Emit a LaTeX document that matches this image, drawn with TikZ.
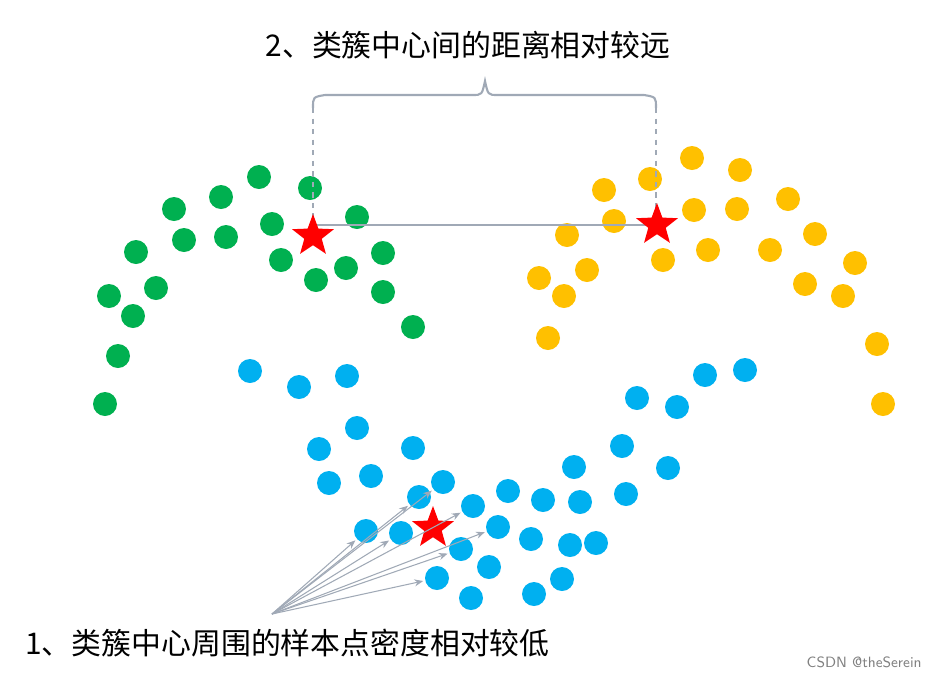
\documentclass[tikz,border=0pt]{standalone}
\usepackage{fontspec}
\newfontfamily\cjk{Noto Sans CJK SC}
\usetikzlibrary{arrows.meta,shapes.geometric}
\definecolor{gdot}{HTML}{00B050}
\definecolor{ydot}{HTML}{FFC000}
\definecolor{bdot}{HTML}{00B0F0}
\definecolor{lin}{HTML}{A0A9B6}
\tikzset{
 dot/.style={circle,fill=#1,inner sep=0pt,minimum size=24*0.02cm},
 starn/.style={star,star points=5,star point ratio=2.4,fill=red,inner sep=0pt,minimum size=44*0.02cm},
 ln/.style={draw=lin,line width=0.9pt},
 arr/.style={ln,line width=0.6pt,-{Stealth[length=5pt,width=4pt]},shorten >=1pt},
 lbl/.style={font=\cjk\fontsize{17}{19}\selectfont,inner sep=0pt}
}
\begin{document}
\begin{tikzpicture}[x=0.02cm,y=-0.02cm]
\useasboundingbox (0,0) rectangle (938,677);
\foreach \p [count=\i] in {(259,177),(310,188),(174,209),(221,197),(272,224),(357,217),(184,240),(226,237),(136,252),(281,260),(316,280),(346,268),(383,253),(156,288),(109,296),(133,316),(383,292),(413,327),(118,356),(105,404)}
  \node[dot=gdot] (g\i) at \p {};
\foreach \p [count=\i] in {(692,158),(740,170),(604,190),(650,179),(788,199),(614,221),(694,210),(737,209),(567,235),(815,234),(708,250),(770,250),(663,260),(587,270),(855,263),(539,278),(805,284),(564,296),(843,296),(548,338),(877,344),(883,404)}
  \node[dot=ydot] (y\i) at \p {};
\foreach \p [count=\i] in {(250,371),(299,387),(347,376),(705,375),(745,370),(637,398),(677,407),(357,428),(319,449),(413,448),(622,446),(371,476),(329,483),(574,467),(668,468),(443,482),(508,491),(473,506),(543,500),(580,502),(626,494),(419,497),(366,531),(401,533),(498,527),(531,539),(570,545),(596,543),(461,549),(489,567),(437,578),(562,579),(534,594),(471,598)}
  \node[dot=bdot] (b\i) at \p {};
% bracket
\coordinate (d1) at (313,108);
\coordinate (d2) at (656,108);
\draw[ln,dashed] (d1) -- (313,225);
\draw[ln,dashed] (d2) -- (656,225);
\draw[ln] (313,225) -- (656,225);
\draw[ln,line width=1.2pt] (d1) .. controls (313,97) .. (325,95) -- (472,95) .. controls (482,95) .. (485,81) .. controls (488,95) .. (498,95) -- (644,95) .. controls (656,97) .. (d2);
\node[starn] (s1) at (313,236) {};
\node[starn] (s2) at (657,225) {};
\node[starn] (s3) at (433,528) {};
\coordinate (o) at (272,614);
\foreach \t in {b16,b22,b18,b23,b24,b25,b29,b31}
  \draw[arr] (o) -- (\t);
\node[lbl] (t1) at (468,45) {2、类簇中心间的距离相对较远};
\node[lbl,anchor=west] (t2) at (25,643) {1、类簇中心周围的样本点密度相对较低};
\node[font=\sffamily\fontsize{8.5}{10}\selectfont,text=gray,anchor=east,inner sep=0pt] (wm) at (922,662) {CSDN @theSerein};
\end{tikzpicture}
\end{document}
